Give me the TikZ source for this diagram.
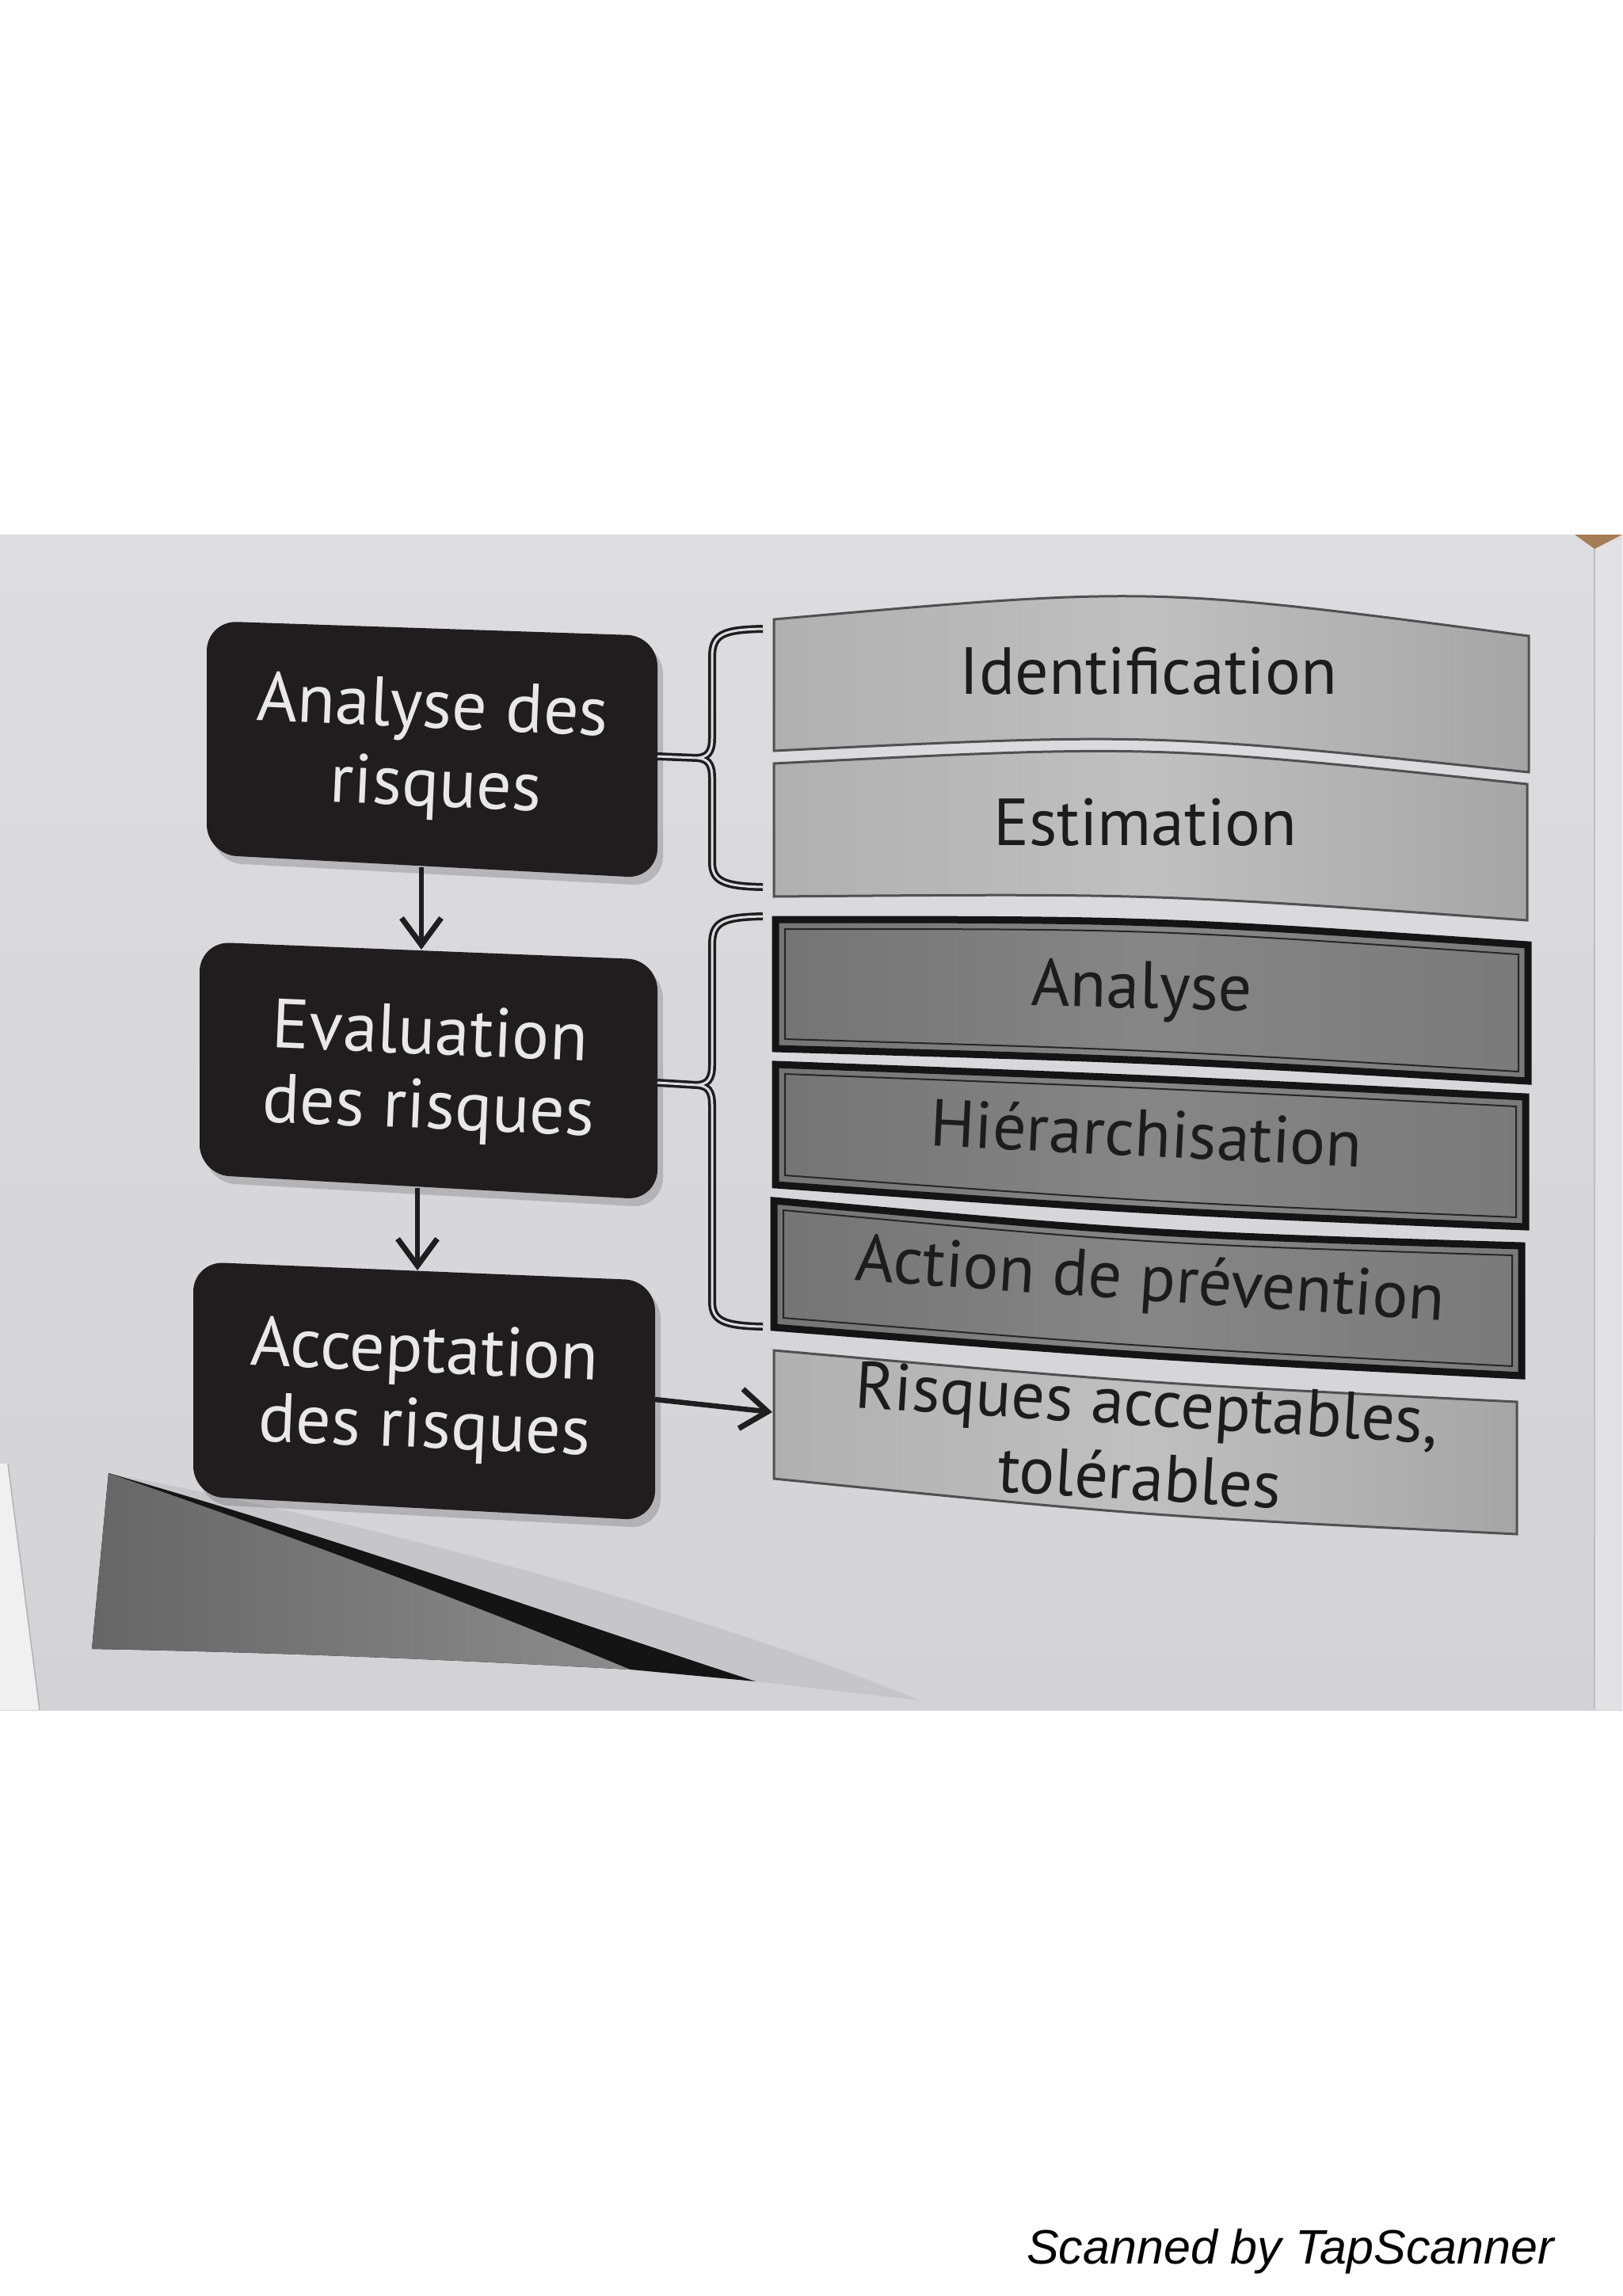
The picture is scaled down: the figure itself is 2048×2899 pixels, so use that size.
\documentclass[tikz,border=0pt]{standalone}
\usepackage{fontspec}
\setmainfont{PT Sans}
\newfontfamily\scanfont{Liberation Sans}
\usetikzlibrary{arrows.meta}
\definecolor{bgtop}{RGB}{221,221,225}
\definecolor{bgbot}{RGB}{211,211,215}
\definecolor{bgright}{RGB}{226,226,229}
\definecolor{brown}{RGB}{165,125,85}
\definecolor{boxdark}{RGB}{33,29,30}
\definecolor{ltext}{RGB}{232,232,232}
\definecolor{rtext}{RGB}{28,28,28}
\definecolor{lborder}{RGB}{80,80,80}
\definecolor{lightL}{RGB}{176,176,176}
\definecolor{lightM}{RGB}{192,192,192}
\definecolor{lightR}{RGB}{166,166,166}
\definecolor{darkL}{RGB}{116,116,116}
\definecolor{darkM}{RGB}{134,134,134}
\definecolor{darkR}{RGB}{122,122,122}
\definecolor{linec}{RGB}{30,30,30}
\definecolor{fadec}{RGB}{198,198,202}
\begin{document}
\begin{tikzpicture}[x=1pt,y=-1pt,
  darkbox/.style={fill=boxdark, rounded corners=38pt},
  shadowbox/.style={fill=black, opacity=0.16, rounded corners=38pt},
  ltxt/.style={text=ltext, font=\fontsize{88}{100}\selectfont, anchor=base, inner sep=0pt},
  rtxt/.style={text=rtext, font=\fontsize{84}{96}\selectfont, anchor=base, inner sep=0pt},
  lightbox/.style={draw=lborder, line width=3pt, left color=lightL, right color=lightR, middle color=lightM},
  darkstrip/.style={draw=black!92, line width=9pt, left color=darkL, right color=darkR, middle color=darkM},
  innerline/.style={draw=black!85, line width=2pt},
  bracestyle/.style={draw=linec, line width=3.5pt, double=bgtop, double distance=3pt},
  conn/.style={draw=linec, line width=6.5pt, -{Straight Barb[length=34pt,width=50pt,line width=7pt]}},
]
\useasboundingbox (0,0) rectangle (2048,2899);
\fill[white] (0,0) rectangle (2048,2899);
% photographed page
\fill[top color=bgtop, bottom color=bgbot] (0,675) rectangle (2048,2159);
\fill[bgright] (2013,693) -- (2048,680) -- (2048,2159) -- (2013,2159) -- cycle;
\draw[black!25, line width=2pt] (2013,693) -- (2013,2159);
\fill[brown] (1988,675) -- (2048,675) -- (2013,693) -- cycle;
\fill[black!6] (0,1848) -- (10,1848) -- (50,2159) -- (0,2159) -- cycle;
\draw[black!30, line width=1.5pt] (10,1848) -- (50,2159);

% bottom-left decoration
\fill[fadec] (137,1860) .. controls (500,1930) and (900,2040) .. (1161,2147) -- (954,2123) .. controls (700,2040) and (450,1950) .. (137,1860) -- cycle;
\fill[left color=black!60, right color=black!45] (137,1860) -- (116,2082) .. controls (350,2086) and (600,2097) .. (796,2108) .. controls (620,2035) and (400,1950) .. (137,1860) -- cycle;
\fill[black!92] (137,1860) .. controls (450,1950) and (700,2040) .. (954,2123) -- (796,2108) .. controls (620,2035) and (400,1950) .. (137,1860) -- cycle;

% shadows of the step boxes
\begin{scope}[shift={(7,10)}]
  \path[shadowbox] (261,784) -- (830,803) -- (830,1109) -- (261,1079) -- cycle;
  \path[shadowbox] (252,1189) -- (830,1212) -- (830,1515) -- (252,1483) -- cycle;
  \path[shadowbox] (244,1593) -- (827,1617) -- (827,1920) -- (244,1889) -- cycle;
\end{scope}
% step boxes
\path[darkbox] (261,784) -- (830,803) -- (830,1109) -- (261,1079) -- cycle;
\path[darkbox] (252,1189) -- (830,1212) -- (830,1515) -- (252,1483) -- cycle;
\path[darkbox] (244,1593) -- (827,1617) -- (827,1920) -- (244,1889) -- cycle;

\node[ltxt, rotate=-2.5] (t1a) at (545,919) {Analyse des};
\node[ltxt, rotate=-2.5] (t1b) at (549,1018) {risques};
\node[ltxt, rotate=-2.4] (t2a) at (542,1331) {Evaluation};
\node[ltxt, rotate=-2.4] (t2b) at (540,1425) {des risques};
\node[ltxt, rotate=-2.4] (t3a) at (535,1733) {Acceptation};
\node[ltxt, rotate=-2.4] (t3b) at (535,1828) {des risques};

% light boxes
\path[lightbox] (977,782) .. controls (1453,740) .. (1930,803) -- (1930,975) .. controls (1453,925) .. (977,948) -- cycle;
\path[lightbox] (977,964) .. controls (1453,940) .. (1928,990) -- (1928,1162) .. controls (1453,1128) .. (977,1132) -- cycle;
\path[lightbox] (977,1705) .. controls (1446,1746.5) .. (1915,1770) -- (1915,1937) .. controls (1446,1914) .. (977,1867) -- cycle;

% dark boxes
\path[darkstrip] (979,1161) .. controls (1454,1161) .. (1929,1193) -- (1929,1365) .. controls (1454,1337.5) .. (979,1324) -- cycle;
\path[innerline] (991,1173) .. controls (1454,1173) .. (1917,1205) -- (1917,1353) .. controls (1454,1325.5) .. (991,1312) -- cycle;
\path[darkstrip] (979,1344) .. controls (1452,1361.5) .. (1926,1385) -- (1926,1549) .. controls (1452,1529.5) .. (979,1496) -- cycle;
\path[innerline] (991,1356) .. controls (1452,1373.5) .. (1914,1397) -- (1914,1537) .. controls (1452,1517.5) .. (991,1484) -- cycle;
\path[darkstrip] (977,1516) .. controls (1449,1558.5) .. (1921,1573) -- (1921,1737) .. controls (1449,1713) .. (977,1676) -- cycle;
\path[innerline] (989,1528) .. controls (1449,1570.5) .. (1909,1585) -- (1909,1725) .. controls (1449,1701) .. (989,1664) -- cycle;

% texts of the right boxes
\node[rtxt] (r1) at (1450,876) {Identification};
\node[rtxt] (r2) at (1446,1067) {Estimation};
\node[rtxt, rotate=-1.3] (r3) at (1441,1273) {Analyse};
\node[rtxt, rotate=-2.8] (r4) at (1446,1460) {Hiérarchisation};
\node[rtxt, rotate=-3.9] (r5) at (1450,1642) {Action de prévention};
\node[rtxt, rotate=-3.5] (r6a) at (1446,1800) {Risques acceptables,};
\node[rtxt, rotate=-3.5] (r6b) at (1437,1894) {tolérables};

% connection points
\coordinate (b1s) at (532,1095);
\coordinate (b2n) at (532,1199);
\coordinate (b2s) at (527,1500);
\coordinate (b3n) at (527,1604);
\coordinate (b3e) at (827,1767);
\coordinate (rkw) at (975,1783);
\coordinate (b1e) at (830,955);
\coordinate (br1) at (880,957);
\coordinate (b2e) at (830,1367);
\coordinate (br2) at (880,1370);

% braces
\draw[bracestyle] (963,794) .. controls (912,795) and (899,801) .. (899,830) -- (899,932) .. controls (899,950) and (893,956) .. (br1) .. controls (893,958) and (899,964) .. (899,982) -- (899,1088) .. controls (899,1112) and (912,1119) .. (963,1120);
\draw[bracestyle] (963,1157) .. controls (912,1158) and (899,1164) .. (899,1193) -- (899,1345) .. controls (899,1363) and (893,1369) .. (br2) .. controls (893,1371) and (899,1377) .. (899,1395) -- (899,1643) .. controls (899,1667) and (912,1674) .. (963,1675);
\draw[bracestyle] (b1e) -- (br1);
\draw[bracestyle] (b2e) -- (br2);

% arrows
\draw[conn] (b1s) -- (b2n);
\draw[conn] (b2s) -- (b3n);
\draw[conn] (b3e) -- (rkw);

% scanner mark
\node[anchor=base west, inner sep=0pt, font=\scanfont\itshape\fontsize{61}{70}\selectfont] (scan) at (1296,2858) {Scanned by TapScanner};
\end{tikzpicture}
\end{document}
